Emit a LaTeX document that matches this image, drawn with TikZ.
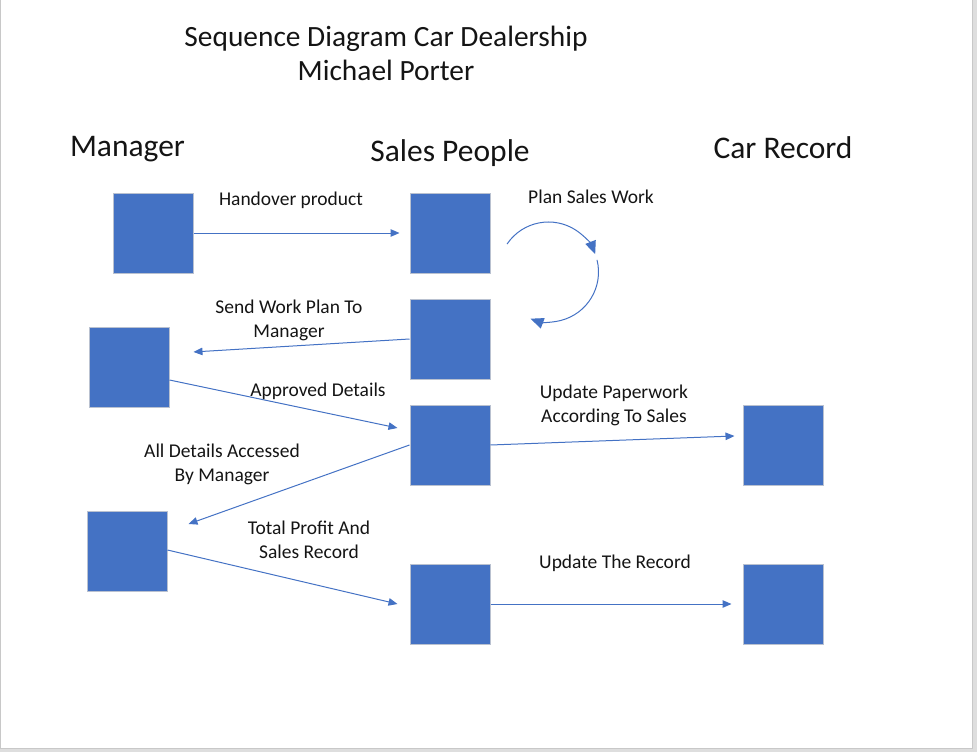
\documentclass[tikz,border=0pt]{standalone}
\usepackage{fontspec}
\setmainfont{Carlito}
\usetikzlibrary{arrows.meta}
\definecolor{boxblue}{RGB}{68,114,196}
\definecolor{boxedge}{RGB}{185,193,208}
\definecolor{framegray}{RGB}{200,200,200}
\definecolor{shadowgray}{RGB}{222,222,222}
\definecolor{txt}{RGB}{20,20,20}
\tikzset{
  lifebox/.style={rectangle, fill=boxblue, draw=boxedge, line width=1pt, minimum size=80pt, inner sep=0pt},
  msg/.style={draw=boxblue, line width=1pt, -{Triangle[length=9pt,width=7.5pt]}},
  loopmsg/.style={draw=boxblue, line width=1pt, -{Triangle[length=13pt,width=11pt]}},
  lbl/.style={font=\fontsize{19.5}{24}\selectfont, text=txt, inner sep=0pt, align=center, anchor=base},
  hdr/.style={font=\fontsize{31.5}{36}\selectfont, text=txt, inner sep=0pt, anchor=base},
  ttl/.style={font=\fontsize{29.4}{33.3}\selectfont, text=txt, inner sep=0pt, align=center, anchor=base}
}
\begin{document}
\begin{tikzpicture}[x=1pt,y=1pt]
\useasboundingbox (0,0) rectangle (979,-752);
% page frame and shadow
\fill[shadowgray] (973,0) rectangle (977,-752);
\fill[shadowgray] (0,-749) rectangle (977,-752);
\draw[framegray, line width=1pt] (0.5,0) -- (0.5,-748.5) -- (972.5,-748.5) -- (972.5,0);

% titles
\node[ttl] (title) at (386,-80) {Sequence Diagram Car Dealership\\Michael Porter};
\node[hdr] (hm) at (127.5,-156.7) {Manager};
\node[hdr] (hs) at (450,-161.7) {Sales People};
\node[hdr] (hc) at (783,-158.3) {Car Record};

% boxes
\node[lifebox] (M1) at (153,-233) {};
\node[lifebox] (S1) at (450,-233) {};
\node[lifebox] (S2) at (450,-339) {};
\node[lifebox] (M2) at (129,-367) {};
\node[lifebox] (S3) at (450,-445) {};
\node[lifebox] (C1) at (783,-445) {};
\node[lifebox] (M3) at (127,-551) {};
\node[lifebox] (S4) at (450,-604) {};
\node[lifebox] (C2) at (783,-604) {};

% messages
\draw[msg, shorten >=10pt] (M1.east) -- (S1.west);
\draw[msg, shorten >=24pt] (S2.west) -- ([yshift=13.6pt]M2.east);
\draw[msg, shorten >=12.3pt] ([yshift=-13pt]M2.east) -- ([yshift=14.5pt]S3.west);
\draw[msg, shorten >=8pt] (S3.east) -- ([yshift=9.3pt]C1.west);
\draw[msg, shorten >=22.3pt] (S3.west) -- ([yshift=19.5pt]M3.east);
\draw[msg, shorten >=12.3pt] ([yshift=1pt]M3.east) -- ([yshift=-2.8pt]S4.west);
\draw[msg, shorten >=11pt] (S4.east) -- (C2.west);

% self message loop
\coordinate (loopc) at (548.5,-272);
\draw[loopmsg] (loopc) ++(146:50) arc[start angle=146, end angle=21, radius=50];
\draw[loopmsg] (loopc) ++(14:50) arc[start angle=14, end angle=-111, radius=50];

% labels
\node[lbl] (l1) at (291,-205) {Handover product};
\node[lbl] (l2) at (591,-203) {Plan Sales Work};
\node[lbl] (l3) at (289,-337) {Send Work Plan To\\Manager};
\node[lbl] (l4) at (318,-396) {Approved Details};
\node[lbl] (l5) at (614,-422) {Update Paperwork\\According To Sales};
\node[lbl] (l6) at (222,-481) {All Details Accessed\\By Manager};
\node[lbl] (l7) at (309,-558) {Total Profit And\\Sales Record};
\node[lbl] (l8) at (615,-568) {Update The Record};
\end{tikzpicture}
\end{document}
